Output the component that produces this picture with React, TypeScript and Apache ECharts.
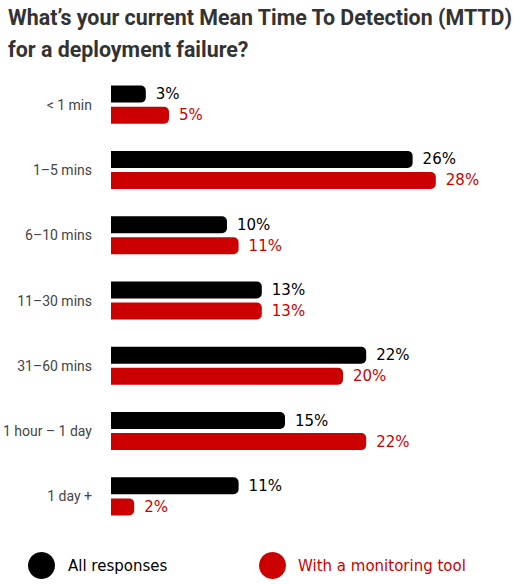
import React, { useEffect, useRef } from "react";
import * as echarts from "echarts";

const categories = ["< 1 min", "1–5 mins", "6–10 mins", "11–30 mins", "31–60 mins", "1 hour – 1 day", "1 day +"];
const allResponses = [3, 26, 10, 13, 22, 15, 11];
const withMonitoring = [5, 28, 11, 13, 20, 22, 2];
const seriesNames = ["All responses", "With a monitoring tool"];

const BLACK = "#000000";
const RED = "#cc0000";
const LABEL_FONT = "'DejaVu Sans', sans-serif";

export default function App() {
  const ref = useRef<HTMLDivElement>(null);
  useEffect(() => {
    document.body.style.margin = "0";
    const chart = echarts.init(ref.current!, null, { renderer: "svg" });
    chart.setOption({
      animation: false,
      backgroundColor: "#ffffff",
      title: {
        text: "What’s your current Mean Time To Detection (MTTD)\nfor a deployment failure?",
        left: 3,
        top: -4,
        textStyle: {
          fontFamily: "Roboto",
          fontWeight: "bold",
          fontSize: 21.4,
          lineHeight: 32,
          color: "#333333",
        },
      },
      legend: [
        {
          data: [{ name: seriesNames[0], textStyle: { color: BLACK } }],
          left: 23,
          top: 547,
          icon: "circle",
          itemWidth: 27,
          itemHeight: 27,
          textStyle: { fontFamily: LABEL_FONT, fontSize: 15, padding: [0, 0, 0, 8] },
          selectedMode: false,
        },
        {
          data: [{ name: seriesNames[1], textStyle: { color: RED } }],
          left: 254,
          top: 547,
          icon: "circle",
          itemWidth: 27,
          itemHeight: 27,
          textStyle: { fontFamily: LABEL_FONT, fontSize: 15, padding: [0, 0, 0, 7] },
          selectedMode: false,
        },
      ],
      grid: { left: 111, right: 5, top: 72, bottom: 56, containLabel: false },
      xAxis: {
        type: "value",
        min: 0,
        max: 35,
        show: false,
      },
      yAxis: {
        type: "category",
        data: categories,
        inverse: true,
        axisLine: { show: false },
        axisTick: { show: false },
        axisLabel: { margin: 19, fontFamily: "Roboto", fontSize: 14, color: "#444444" },
      },
      series: [
        {
          name: seriesNames[0],
          type: "bar",
          data: allResponses,
          barWidth: 17,
          barGap: "24%",
          itemStyle: { color: BLACK, borderRadius: [0, 5, 5, 0] },
          label: {
            show: true,
            position: "right",
            distance: 10,
            formatter: "{c}%",
            fontFamily: LABEL_FONT,
            fontSize: 15,
            color: BLACK,
          },
        },
        {
          name: seriesNames[1],
          type: "bar",
          data: withMonitoring,
          barWidth: 17,
          itemStyle: { color: RED, borderRadius: [0, 5, 5, 0] },
          label: {
            show: true,
            position: "right",
            distance: 10,
            formatter: "{c}%",
            fontFamily: LABEL_FONT,
            fontSize: 15,
            color: RED,
          },
        },
      ],
    });
    return () => chart.dispose();
  }, []);
  return <div ref={ref} style={{ width: 522, height: 585 }} />;
}
